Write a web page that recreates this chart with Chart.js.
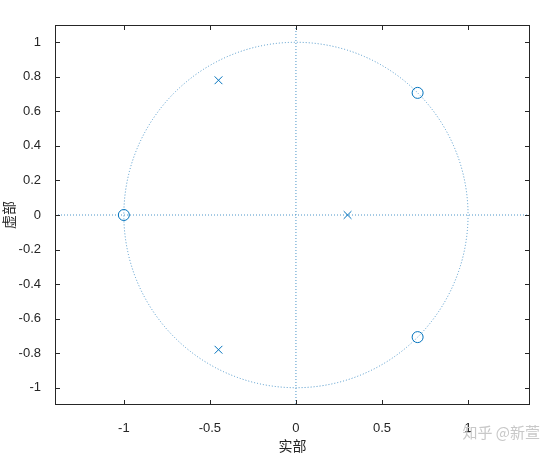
<!DOCTYPE html>
<html><head><meta charset="utf-8">
<script src="https://cdn.jsdelivr.net/npm/chart.js@4/dist/chart.umd.min.js"></script>
<style>body{margin:0;background:#fff}#wrap{position:relative;width:548px;height:454px}</style>
</head><body><div id="wrap"><canvas id="c" width="548" height="454"></canvas></div>
<script>
// zeros and poles
const zerosRe = [-1, 0.707, 0.707];
const zerosIm = [0, 0.707, -0.707];
const polesRe = [0.3, -0.45, -0.45];
const polesIm = [0, 0.78, -0.78];
const xTicks = [-1, -0.5, 0, 0.5, 1];
const yTicks = [-1, -0.8, -0.6, -0.4, -0.2, 0, 0.2, 0.4, 0.6, 0.8, 1];
const blue = '#0072BD';

const pts = (re, im) => re.map((v, i) => ({ x: v, y: im[i] }));

// unit circle, axis lines, box and inner ticks
const decor = {
    id: 'decor',
    beforeDatasetsDraw(chart) {
        const { ctx, chartArea: a, scales: { x, y } } = chart;
        ctx.save();
        ctx.strokeStyle = '#4a94c8';
        ctx.lineWidth = 1;
        ctx.setLineDash([1, 2]);
        ctx.beginPath();
        ctx.moveTo(x.getPixelForValue(0), a.top);
        ctx.lineTo(x.getPixelForValue(0), a.bottom);
        ctx.moveTo(a.left, y.getPixelForValue(0));
        ctx.lineTo(a.right, y.getPixelForValue(0));
        ctx.stroke();
        const cx = x.getPixelForValue(0), cy = y.getPixelForValue(0);
        const rx = x.getPixelForValue(1) - cx, ry = cy - y.getPixelForValue(1);
        ctx.beginPath();
        ctx.ellipse(cx, cy, rx, ry, 0, 0, Math.PI * 2);
        ctx.stroke();
        ctx.restore();
    },
    afterDraw(chart) {
        const { ctx, chartArea: a, scales: { x, y } } = chart;
        ctx.save();
        ctx.strokeStyle = '#262626';
        ctx.lineWidth = 1;
        ctx.strokeRect(a.left + 0.5, a.top + 0.5, a.width - 1, a.height - 1);
        ctx.beginPath();
        xTicks.forEach(v => {
            const px = Math.round(x.getPixelForValue(v)) + 0.5;
            ctx.moveTo(px, a.bottom); ctx.lineTo(px, a.bottom - 5);
            ctx.moveTo(px, a.top); ctx.lineTo(px, a.top + 5);
        });
        yTicks.forEach(v => {
            const py = Math.round(y.getPixelForValue(v)) + 0.5;
            ctx.moveTo(a.left, py); ctx.lineTo(a.left + 5, py);
            ctx.moveTo(a.right, py); ctx.lineTo(a.right - 5, py);
        });
        ctx.stroke();
        ctx.fillStyle = '#c8c8c8';
        ctx.font = '15px "Noto Sans CJK SC"';
        ctx.textAlign = 'right';
        ctx.fillText('知乎 @新萱', 540, 438);
        ctx.restore();
    }
};

new Chart(document.getElementById('c'), {
    type: 'scatter',
    data: {
        datasets: [
            { label: '零点', data: pts(zerosRe, zerosIm), pointStyle: 'circle', pointRadius: 5.5,
              borderColor: blue, backgroundColor: 'rgba(0,0,0,0)', borderWidth: 1 },
            { label: '极点', data: pts(polesRe, polesIm), pointStyle: 'crossRot', pointRadius: 5.5,
              borderColor: blue, borderWidth: 1 }
        ]
    },
    options: {
        responsive: false,
        animation: false,
        layout: { padding: { top: 25, right: 18, left: 0, bottom: 0 } },
        plugins: { legend: { display: false }, tooltip: { enabled: false } },
        scales: {
            x: {
                min: -1.4, max: 1.36,
                afterBuildTicks: s => { s.ticks = xTicks.map(v => ({ value: v })); },
                afterFit: s => { s.height = 49; },
                grid: { display: false }, border: { display: false },
                ticks: { color: '#262626', font: { family: 'Liberation Sans', size: 13 }, padding: 8,
                         callback: v => String(v) },
                title: { display: true, text: '实部', color: '#262626', padding: 0,
                         font: { family: 'Noto Sans CJK SC', size: 14 } }
            },
            y: {
                min: -1.1, max: 1.1,
                afterBuildTicks: s => { s.ticks = yTicks.map(v => ({ value: v })); },
                afterFit: s => { s.width = 55; },
                grid: { display: false }, border: { display: false },
                ticks: { color: '#262626', font: { family: 'Liberation Sans', size: 13 }, padding: 6,
                         callback: v => String(Math.round(v * 10) / 10) },
                title: { display: true, text: '虚部', color: '#262626', padding: 0,
                         font: { family: 'Noto Sans CJK SC', size: 14 } }
            }
        }
    },
    plugins: [decor]
});
</script></body></html>
